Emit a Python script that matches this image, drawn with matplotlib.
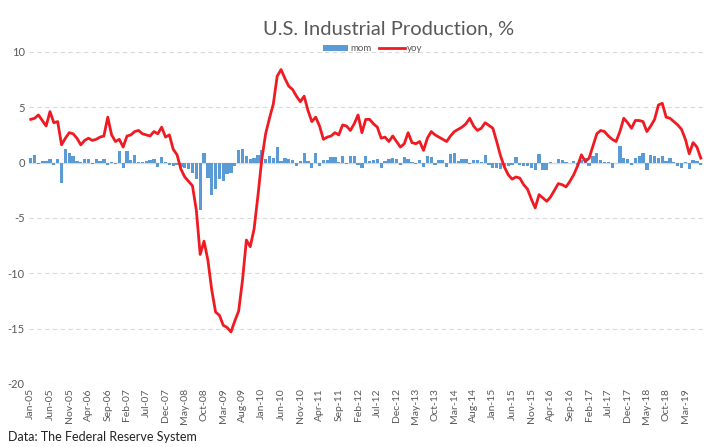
import numpy as np
import pandas as pd
import matplotlib
matplotlib.use("Agg")
import matplotlib.pyplot as plt

plt.rcParams['font.family'] = ['Lato', 'DejaVu Sans']

# year-over-year change, %
yoy = [
    3.9, 4.0, 4.3, 3.8, 3.3, 4.6, 3.6, 3.7, 1.6, 2.2,
    2.7, 2.6, 2.2, 1.6, 2.0, 2.2, 2.0, 2.1, 2.3, 2.4,
    4.1, 2.5, 1.9, 2.1, 1.4, 2.4, 2.5, 2.8, 2.9, 2.6,
    2.5, 2.4, 2.8, 2.6, 3.2, 2.3, 2.5, 1.2, 0.7, -0.6,
    -1.3, -1.7, -2.1, -4.3, -8.3, -7.1, -8.8, -11.5, -13.5, -13.8,
    -14.7, -14.9, -15.3, -14.3, -13.4, -10.6, -7.0, -7.6, -6.0, -3.0,
    0.3, 2.6, 4.0, 5.3, 7.8, 8.4, 7.6, 6.9, 6.6, 6.0,
    5.5, 6.0, 4.7, 3.7, 4.1, 3.3, 2.1, 2.3, 2.4, 2.7,
    2.5, 3.4, 3.3, 2.9, 3.5, 4.3, 2.7, 3.9, 3.9, 3.5,
    3.2, 2.2, 2.3, 1.9, 2.4, 1.9, 1.4, 1.7, 2.7, 1.8,
    1.7, 1.9, 1.1, 2.2, 2.8, 2.5, 2.3, 2.1, 1.9, 2.4,
    2.8, 3.0, 3.2, 3.5, 4.0, 3.3, 2.9, 3.1, 3.6, 3.35,
    3.1, 1.9, 0.6, -0.4, -1.1, -1.5, -1.3, -1.4, -2.0, -2.4,
    -3.3, -4.1, -2.9, -3.2, -3.5, -3.1, -2.5, -1.9, -2.0, -2.2,
    -1.7, -1.1, -0.3, 0.7, 0.1, 0.4, 1.5, 2.6, 2.9, 2.8,
    2.4, 2.1, 1.9, 2.8, 4.0, 3.6, 3.1, 3.8, 3.8, 3.7,
    2.8, 3.3, 3.9, 5.2, 5.35, 4.1, 4.0, 3.7, 3.4, 3.0,
    2.1, 0.8, 1.8, 1.4, 0.4,
]

# month-over-month change, %
mom = [
    0.45, 0.65, -0.1, 0.1, 0.1, 0.35, -0.25, 0.3, -1.85, 1.25,
    0.9, 0.6, 0.1, 0.05, 0.3, 0.35, -0.1, 0.35, 0.1, 0.35,
    -0.2, 0.05, -0.1, 1.0, -0.5, 1.0, 0.2, 0.7, 0.05, 0.05,
    0.1, 0.2, 0.35, -0.4, 0.5, 0.05, -0.25, -0.3, -0.2, -0.4,
    -0.5, -0.6, -0.9, -1.5, -4.3, 0.9, -1.4, -2.9, -2.4, -1.5,
    -1.7, -1.0, -0.9, -0.3, 1.1, 1.2, 0.6, 0.3, 0.4, 0.7,
    1.1, 0.3, 0.6, 0.4, 1.4, 0.1, 0.4, 0.3, 0.2, -0.3,
    0.1, 0.9, 0.1, -0.5, 0.9, -0.3, 0.2, 0.25, 0.5, 0.5,
    0.05, 0.6, -0.15, 0.55, 0.55, -0.2, -0.45, 0.6, 0.1, 0.2,
    0.3, -0.45, 0.1, 0.3, 0.45, 0.3, -0.2, 0.5, 0.3, 0.05,
    -0.15, 0.2, -0.4, 0.6, 0.5, -0.2, 0.25, 0.25, -0.4, 0.8,
    0.9, 0.1, 0.35, 0.3, -0.1, 0.2, 0.25, 0.05, 0.7, -0.2,
    -0.5, -0.5, -0.55, -0.35, -0.3, -0.2, 0.5, -0.2, -0.3, -0.35,
    -0.5, -0.65, 0.8, -0.7, -0.7, 0.05, -0.05, 0.35, 0.2, 0.05,
    -0.05, 0.1, -0.2, 0.25, 0.4, -0.3, 0.6, 0.85, 0.2, 0.05,
    0.05, -0.5, 0.0, 1.5, 0.4, 0.3, -0.2, 0.4, 0.55, 0.85,
    -0.7, 0.7, 0.55, 0.4, 0.6, 0.1, 0.4, 0.05, -0.35, -0.5,
    0.05, -0.6, 0.2, 0.1, -0.2,
]

months = pd.date_range('2005-01-01', periods=len(yoy), freq='MS').strftime('%b-%y').tolist()
y_ticks = [10, 5, 0, -5, -10, -15, -20]

grey = '#595959'

fig = plt.figure(figsize=(7.2, 4.47), dpi=100)
ax = fig.add_axes([0.040, 0.141, 0.936, 0.743])

x = np.arange(len(yoy))
bars = ax.bar(x, mom, width=0.85, color='#5B9BD5', label='mom', zorder=2)
line, = ax.plot(x, yoy, color='#F01A22', lw=2.0, label='yoy', zorder=3,
                solid_joinstyle='round')

ax.axhline(0, color='#D9D9D9', lw=1.0, zorder=1)

ax.set_xlim(-0.5, len(yoy) - 0.5)
ax.set_ylim(-20, 10)
ax.set_yticks(y_ticks)
ax.set_yticklabels([str(t) for t in y_ticks], color=grey, fontsize=8)
ax.set_xticks(x[::5])
ax.set_xticklabels(months[::5], rotation=90, color=grey, fontsize=7.5)
ax.tick_params(length=0, pad=3)

ax.grid(axis='y', color='#D9D9D9', lw=0.8, ls=(0, (4, 3)), zorder=0)
for s in ax.spines.values():
    s.set_visible(False)

fig.text(0.539, 0.935, 'U.S. Industrial Production, %', ha='center', va='center',
         fontsize=14.5, color=grey)

leg = ax.legend([bars, line], ['mom', 'yoy'], loc='center', bbox_to_anchor=(0.51, 1.01),
                ncol=2, frameon=False, fontsize=7, handlelength=2.6, handleheight=0.6,
                columnspacing=0.8, handletextpad=0.2)
for t in leg.get_texts():
    t.set_color(grey)

fig.text(0.011, 0.022, 'Data: The Federal Reserve System', ha='left', va='center',
         fontsize=9, color='#222222')

fig.savefig('out.png', dpi=100)
